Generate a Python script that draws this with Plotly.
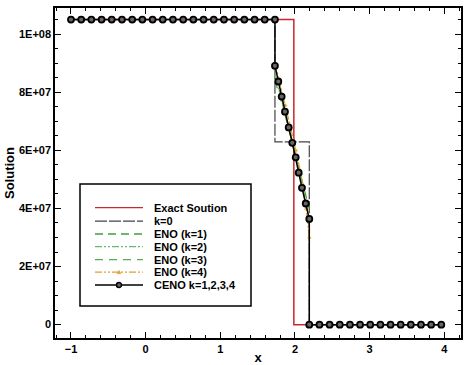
import plotly.graph_objects as go

# ---- data ----
x_exact = [-1.0, 1.985, 1.985, 4.0]
y_exact = [1.05e8, 1.05e8, 0.0, 0.0]

x_k0 = [-1.0, 1.732, 1.732, 2.192, 2.192, 3.96]
y_k0 = [1.05e8, 1.05e8, 6.29e7, 6.29e7, 0.0, 0.0]

x_eno = [1.732, 1.80, 1.87, 1.94, 2.01, 2.08, 2.15, 2.192]
y_eno1 = [8.5e7, 8.0e7, 7.2e7, 6.5e7, 5.7e7, 5.0e7, 4.4e7, 4.0e7]
y_eno2 = [8.6e7, 7.95e7, 7.3e7, 6.55e7, 5.8e7, 5.05e7, 4.2e7, 3.5e7]
y_eno3 = [8.4e7, 7.85e7, 7.25e7, 6.6e7, 5.85e7, 5.1e7, 4.1e7, 3.3e7]
y_eno4 = [9.0e7, 8.3e7, 7.55e7, 6.8e7, 6.0e7, 5.2e7, 4.0e7, 3.0e7]

x_ceno = [-1.0, -0.863, -0.727, -0.590, -0.454, -0.317, -0.180, -0.044, 0.093,
          0.229, 0.366, 0.503, 0.639, 0.776, 0.912, 1.049, 1.186, 1.322, 1.459,
          1.595, 1.732,
          1.732, 1.777, 1.822, 1.866, 1.916, 1.964, 2.010, 2.050, 2.094, 2.144, 2.192,
          2.192, 2.328, 2.464, 2.600, 2.736, 2.872, 3.008, 3.144, 3.280, 3.416,
          3.552, 3.688, 3.824, 3.960]
y_ceno = [1.05e8] * 21 + [8.91e7, 8.37e7, 7.85e7, 7.33e7, 6.79e7, 6.26e7, 5.76e7,
                          5.23e7, 4.71e7, 4.17e7, 3.64e7] + [0.0] * 14

y_tickvals = [0, 2e7, 4e7, 6e7, 8e7, 1e8]
y_ticktext = ["0", "2E+07", "4E+07", "6E+07", "8E+07", "1E+08"]
x_tickvals = [-1, 0, 1, 2, 3, 4]

legend_names = ["Exact Soution", "k=0", "ENO (k=1)", "ENO (k=2)", "ENO (k=3)",
                "ENO (k=4)", "CENO k=1,2,3,4"]

FONT = "Liberation Sans, Arial, sans-serif"
C_RED = "#c8282e"
C_K0 = "#444444"
C_E1 = "#3f9f3f"
C_E2 = "#6ab86a"
C_E3 = "#55ad55"
C_E4 = "#e0a030"
DASH_K0 = "12px,2px"
DASH_E1 = "8px,5px"
DASH_E2 = "7px,2px,2px,2px,2px,2px"
DASH_E3 = "8px,6px"
DASH_E4 = "7px,2px,2px,2px,2px,2px"

styles = [
    (C_RED, "solid", None),
    (C_K0, DASH_K0, None),
    (C_E1, DASH_E1, None),
    (C_E2, DASH_E2, None),
    (C_E3, DASH_E3, None),
    (C_E4, DASH_E4, "tri"),
    ("#000000", "solid", "circle"),
]

fig = go.Figure()
fig.add_trace(go.Scatter(x=x_exact, y=y_exact, mode="lines", name=legend_names[0],
                         line=dict(color=C_RED, width=1.5)))
fig.add_trace(go.Scatter(x=x_k0, y=y_k0, mode="lines", name=legend_names[1],
                         line=dict(color=C_K0, width=1.2, dash=DASH_K0)))
fig.add_trace(go.Scatter(x=x_eno, y=y_eno1, mode="lines", name=legend_names[2],
                         line=dict(color=C_E1, width=1.3, dash=DASH_E1)))
fig.add_trace(go.Scatter(x=x_eno, y=y_eno2, mode="lines", name=legend_names[3],
                         line=dict(color=C_E2, width=1.3, dash=DASH_E2)))
fig.add_trace(go.Scatter(x=x_eno, y=y_eno3, mode="lines", name=legend_names[4],
                         line=dict(color=C_E3, width=1.3, dash=DASH_E3)))
fig.add_trace(go.Scatter(x=x_eno, y=y_eno4, mode="lines+markers", name=legend_names[5],
                         line=dict(color=C_E4, width=1.3, dash=DASH_E4),
                         marker=dict(symbol="triangle-up", size=4, color=C_E4)))
fig.add_trace(go.Scatter(x=x_ceno, y=y_ceno, mode="lines+markers", name=legend_names[6],
                         line=dict(color="#000000", width=1.5),
                         marker=dict(symbol="circle", size=6, color="#666666",
                                     line=dict(color="#000000", width=1.8))))

axis_common = dict(
    showline=True, linecolor="black", linewidth=1.5, mirror="ticks",
    ticks="inside", ticklen=6, tickwidth=1.2, tickcolor="black",
    showgrid=False, zeroline=False, automargin=False,
    tickfont=dict(family=FONT, size=11, color="black", weight="bold"),
)

fig.update_xaxes(range=[-1.214, 4.224], tickvals=x_tickvals,
                 minor=dict(dtick=0.2, ticks="inside", ticklen=3, tickcolor="black", tickwidth=1),
                 title=dict(text="x", font=dict(family=FONT, size=13, color="black", weight="bold"),
                            standoff=1),
                 **axis_common)
fig.update_yaxes(range=[-4.6e6, 1.09e8], tickvals=y_tickvals, ticktext=y_ticktext,
                 minor=dict(tickvals=[i * 5e6 for i in range(0, 22)], ticks="inside", ticklen=3,
                            tickcolor="black", tickwidth=1),
                 title=dict(text="Solution", font=dict(family=FONT, size=13, color="black", weight="bold"),
                            standoff=1),
                 **axis_common)

# ---- hand-drawn legend (paper coordinates) ----
L, R, T, B = 55.0, 461.0, 8.0, 338.0
W, H = R - L, B - T


def px(xp):
    return (xp - L) / W


def py(yp):
    return (B - yp) / H


shapes = [dict(type="rect", xref="paper", yref="paper", x0=px(80), x1=px(251),
               y0=py(306), y1=py(184), line=dict(color="black", width=1.5),
               fillcolor="rgba(0,0,0,0)")]
annotations = []
row_y = [207.7, 221.2, 234.0, 246.7, 259.7, 272.2, 285.0]
for name, (col, dash, mk), ry in zip(legend_names, styles, row_y):
    shapes.append(dict(type="line", xref="paper", yref="paper", x0=px(95), x1=px(143),
                       y0=py(ry), y1=py(ry), line=dict(color=col, width=1.3, dash=dash)))
    if mk == "circle":
        shapes.append(dict(type="circle", xref="paper", yref="paper",
                           x0=px(116.5), x1=px(121.5), y0=py(ry + 2.5), y1=py(ry - 2.5),
                           fillcolor="#666666", line=dict(color="black", width=1.5)))
    elif mk == "tri":
        shapes.append(dict(type="path", xref="paper", yref="paper",
                           path=f"M {px(117)} {py(ry + 1.5)} L {px(121)} {py(ry + 1.5)} "
                                f"L {px(119)} {py(ry - 2)} Z",
                           fillcolor=C_E4, line=dict(color=C_E4, width=0.5)))
    annotations.append(dict(text=name, xref="paper", yref="paper", x=px(152), y=py(ry),
                            xanchor="left", yanchor="middle", showarrow=False,
                            font=dict(family=FONT, size=11, color="black", weight="bold")))

fig.update_layout(
    width=474, height=365,
    margin=dict(l=55, r=13, t=8, b=27),
    plot_bgcolor="white", paper_bgcolor="white",
    showlegend=False,
    shapes=shapes,
    annotations=annotations,
)

fig.write_html(
    "out.html",
    config={"displayModeBar": False},
    post_script="document.body.style.margin='0';document.body.style.padding='0';"
                "document.documentElement.style.overflow='hidden';",
)
